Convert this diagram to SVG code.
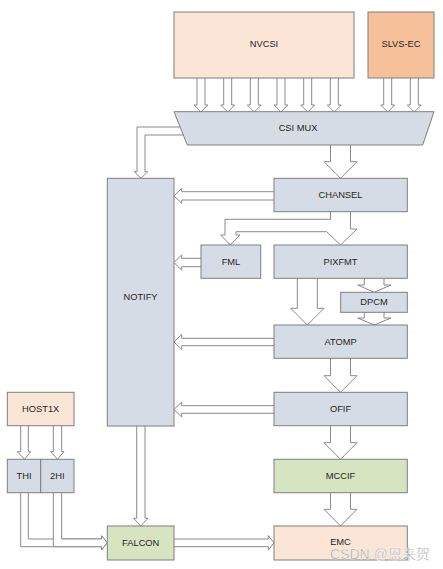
<svg xmlns="http://www.w3.org/2000/svg" width="443" height="569" viewBox="0 0 443 569">
<style>
.a{fill:#fff;stroke:#8a8a8a;stroke-width:1;stroke-linejoin:miter}
.b{stroke:#7f7f7f;stroke-width:1}
.blue{fill:#d6dce5}
.peach{fill:#fbe5d6}
.orange{fill:#f6c19a}
.green{fill:#d7e4c1}
text{font-family:"Liberation Sans",Arial,sans-serif;font-size:9.3px;fill:#1e1e1e;text-anchor:middle;dominant-baseline:central}
.wm{font-family:"Liberation Sans","Noto Sans CJK SC",sans-serif;font-size:14px;fill:#9a9a9a;stroke:#fff;stroke-width:0.4;text-anchor:start;dominant-baseline:auto}
</style>
<rect width="443" height="569" fill="#fff"/>
<g id="connectors">
  <path class="a" d="M197,78V105H194V105L201,112L208,105H205V78"/>
  <path class="a" d="M223.7,78V105H220.7L227.7,112L234.7,105H231.7V78"/>
  <path class="a" d="M250.3,78V105H247.3L254.3,112L261.3,105H258.3V78"/>
  <path class="a" d="M277,78V105H274L281,112L288,105H285V78"/>
  <path class="a" d="M303.7,78V105H300.7L307.7,112L314.7,105H311.7V78"/>
  <path class="a" d="M330.3,78V105H327.3L334.3,112L341.3,105H338.3V78"/>
  <path class="a" d="M383.7,78V105H380.7L387.7,112L394.7,105H391.7V78"/>
  <path class="a" d="M410.3,78V105H407.3L414.3,112L421.3,105H418.3V78"/>
  <path class="a" d="M181,127H137V171.7H134.3L141,178.3L147.7,171.7H145V135H184"/>
  <path class="a" d="M330.5,140V161.7H324L340.5,178.3L357,161.7H350.5V140"/>
  <path class="a" d="M275,191.7H181.7V188.3L174,195.8L181.7,203.3V200H275"/>
  <path class="a" d="M330.5,211V219.3H225V235H220.7L230.3,245L240,235H236V231.7H326.7L340.5,245L357,229H350.5V211"/>
  <path class="a" d="M202,258.3H181.7V254.8L174,262.5L181.7,270.2V266.7H202"/>
  <path class="a" d="M297.3,278V308.3H290.7L307.3,325L324,308.3H317.3V278"/>
  <path class="a" d="M364.3,278V285H357.7L374.2,292.3L391,285H384V278"/>
  <path class="a" d="M364.3,312V318H357.7L374.2,325L391,318H384V312"/>
  <path class="a" d="M275,338.3H181.7V334.5L174,342L181.7,349.5V345.7H275"/>
  <path class="a" d="M330.5,358V375.7H324L340.5,392.3L357,375.7H350.5V358"/>
  <path class="a" d="M275,405.7H181.7V402L174,409.5L181.7,417V413.3H275"/>
  <path class="a" d="M330.5,425.7V442.7H324L340.5,459.3L357,442.7H350.5V425.7"/>
  <path class="a" d="M330.5,492.7V509.3H324L340.5,526L357,509.3H350.5V492.7"/>
  <path class="a" d="M136.7,425.5V518.3H133.5L140.8,526L148,518.3H145V425.5"/>
  <path class="a" d="M174,539H268.3V535.5L274,542.8L268.3,550V546.7H174"/>
  <path class="a" d="M20.7,425.5V451.7H17.3L24.5,459.3L30.7,451.7H28.3V425.5"/>
  <path class="a" d="M53.3,425.5V451.7H50.7L57.5,459.3L64,451.7H61.7V425.5"/>
  <path class="a" d="M20.7,492.7V546.7H101.7V549.8L107.3,542.8L101.7,535.8V539H28.3V492.7"/>
  <path class="a" d="M53.3,492.7V546.7H101.7V549.8L107.3,542.8L101.7,535.8V539H61.7V492.7"/>
</g>
<g id="nvcsi"><rect class="b peach" x="174" y="12" width="180" height="66"/><text x="264" y="44">NVCSI</text></g>
<g id="slvs-ec"><rect class="b orange" x="368" y="12" width="66" height="66"/><text x="401" y="44">SLVS-EC</text></g>
<g id="csi-mux"><polygon class="b blue" points="174,111.7 434,111.7 422.7,145 187.3,145"/><text x="298" y="128">CSI MUX</text></g>
<g id="notify"><rect class="b blue" x="107.3" y="178.3" width="66.7" height="247.7"/><text x="140.5" y="297">NOTIFY</text></g>
<g id="chansel"><rect class="b blue" x="274" y="178.3" width="133.3" height="33.4"/><text x="340.5" y="195">CHANSEL</text></g>
<g id="fml"><rect class="b blue" x="201" y="245" width="59.7" height="33.3"/><text x="231" y="262">FML</text></g>
<g id="pixfmt"><rect class="b blue" x="274" y="245" width="133.3" height="33.3"/><text x="340.5" y="262">PIXFMT</text></g>
<g id="dpcm"><rect class="b blue" x="340.7" y="292.3" width="66.6" height="20"/><text x="374" y="302.3">DPCM</text></g>
<g id="atomp"><rect class="b blue" x="274" y="325" width="133.3" height="33.3"/><text x="340.5" y="341.5">ATOMP</text></g>
<g id="ofif"><rect class="b blue" x="274" y="392.3" width="133.3" height="33.4"/><text x="340.5" y="409">OFIF</text></g>
<g id="mccif"><rect class="b green" x="274" y="459.3" width="133.3" height="33.4"/><text x="340.5" y="476">MCCIF</text></g>
<g id="emc"><rect class="b peach" x="274" y="526" width="133.3" height="34"/><text x="340.5" y="541.5">EMC</text></g>
<g id="host1x"><rect class="b peach" x="7.3" y="392.3" width="66.7" height="33.4"/><text x="40.7" y="409">HOST1X</text></g>
<g id="thi"><rect class="b blue" x="7.3" y="459.3" width="33.4" height="33.4"/><text x="24" y="476">THI</text></g>
<g id="twohi"><rect class="b blue" x="40.7" y="459.3" width="33.3" height="33.4"/><text x="57.3" y="476">2HI</text></g>
<g id="falcon"><rect class="b green" x="107.3" y="526" width="66.7" height="34"/><text x="140.7" y="543">FALCON</text></g>
<text class="wm" x="330" y="558.5">CSDN @恩来贺</text>
</svg>
